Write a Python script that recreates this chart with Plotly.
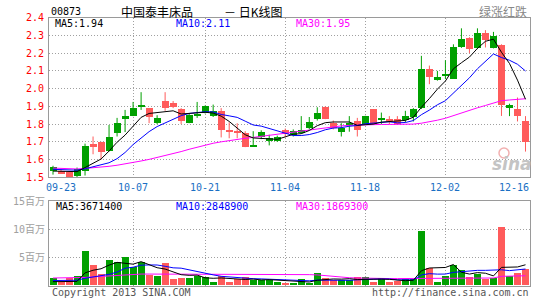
import plotly.graph_objects as go

W, H = 545, 300

date_labels = ["09-23", "10-07", "10-21", "11-04", "11-18", "12-02", "12-16"]
date_pos = [1, 10, 19, 29, 39, 49, 59]
grid_pos = [10, 19, 29, 39, 49]

opens = [1.54, 1.54, 1.53, 1.51, 1.54, 1.69, 1.70, 1.65, 1.75, 1.83,
         1.85, 1.90, 1.89, 1.81, 1.93, 1.92, 1.885, 1.81, 1.85, 1.865,
         1.845, 1.875, 1.77, 1.765, 1.75, 1.675, 1.73, 1.705, 1.705, 1.77,
         1.74, 1.75, 1.78, 1.83, 1.90, 1.81, 1.758, 1.80, 1.82, 1.80,
         1.885, 1.83, 1.832, 1.832, 1.825, 1.84, 1.89, 2.11, 2.05, 2.075,
         2.057, 2.235, 2.29, 2.232, 2.317, 2.232, 2.25, 1.895, 1.888, 1.822]
highs = [1.565, 1.545, 1.53, 1.555, 1.69, 1.73, 1.70, 1.795, 1.835, 1.88,
         1.925, 1.98, 1.89, 1.85, 1.98, 1.93, 1.89, 1.86, 1.925, 1.905,
         1.91, 1.89, 1.81, 1.805, 1.76, 1.76, 1.765, 1.74, 1.735, 1.775,
         1.77, 1.845, 1.84, 1.895, 1.90, 1.82, 1.805, 1.845, 1.835, 1.847,
         1.885, 1.865, 1.845, 1.845, 1.875, 1.89, 2.185, 2.13, 2.10, 2.16,
         2.25, 2.34, 2.29, 2.34, 2.33, 2.32, 2.25, 1.915, 1.95, 1.845]
lows = [1.515, 1.52, 1.50, 1.495, 1.51, 1.63, 1.60, 1.645, 1.73, 1.755,
        1.845, 1.88, 1.805, 1.80, 1.875, 1.89, 1.80, 1.805, 1.835, 1.86,
        1.84, 1.725, 1.72, 1.72, 1.67, 1.675, 1.715, 1.68, 1.70, 1.725,
        1.73, 1.745, 1.77, 1.82, 1.828, 1.77, 1.73, 1.757, 1.73, 1.80,
        1.80, 1.80, 1.798, 1.795, 1.81, 1.815, 1.885, 2.025, 2.045, 2.055,
        2.055, 2.23, 2.20, 2.223, 2.232, 2.227, 1.846, 1.845, 1.815, 1.645]
closes = [1.56, 1.52, 1.50, 1.55, 1.68, 1.67, 1.645, 1.73, 1.81, 1.85,
          1.89, 1.91, 1.84, 1.835, 1.89, 1.90, 1.82, 1.855, 1.855, 1.905,
          1.875, 1.77, 1.76, 1.75, 1.675, 1.685, 1.755, 1.725, 1.73, 1.745,
          1.76, 1.77, 1.815, 1.865, 1.83, 1.78, 1.78, 1.805, 1.77, 1.847,
          1.80, 1.832, 1.82, 1.805, 1.85, 1.888, 2.11, 2.065, 2.07, 2.08,
          2.235, 2.28, 2.225, 2.317, 2.277, 2.296, 1.91, 1.91, 1.845, 1.70]

ma5 = [1.535, 1.533, 1.53, 1.532, 1.555, 1.578, 1.603, 1.648, 1.698, 1.738,
       1.785, 1.838, 1.86, 1.865, 1.873, 1.875, 1.857, 1.86, 1.864, 1.867,
       1.862, 1.845, 1.815, 1.78, 1.74, 1.722, 1.72, 1.716, 1.714, 1.728,
       1.743, 1.746, 1.764, 1.791, 1.808, 1.812, 1.814, 1.812, 1.793, 1.796,
       1.80, 1.811, 1.814, 1.821, 1.821, 1.839, 1.895, 1.944, 1.997, 2.043,
       2.112, 2.146, 2.178, 2.227, 2.267, 2.279, 2.205, 2.142, 2.048, 1.94]
ma10 = [1.545, 1.542, 1.54, 1.54, 1.548, 1.558, 1.568, 1.582, 1.605, 1.64,
        1.6845, 1.7235, 1.7575, 1.786, 1.807, 1.83, 1.8475, 1.86, 1.8645, 1.87,
        1.8685, 1.8545, 1.8465, 1.838, 1.8165, 1.795, 1.7885, 1.7755, 1.763, 1.747,
        1.7355, 1.7355, 1.741, 1.7525, 1.768, 1.7775, 1.78, 1.788, 1.792, 1.802,
        1.806, 1.812, 1.813, 1.807, 1.809, 1.82, 1.853, 1.879, 1.909, 1.932,
        1.9755, 2.02, 2.061, 2.112, 2.155, 2.1955, 2.1755, 2.16, 2.1375, 2.0995]
ma30 = [1.552, 1.550, 1.548, 1.547, 1.550, 1.553, 1.557, 1.562, 1.568, 1.575,
        1.583, 1.592, 1.601, 1.611, 1.622, 1.633, 1.645, 1.658, 1.670, 1.682,
        1.692, 1.70, 1.708, 1.715, 1.72, 1.725, 1.731, 1.738, 1.745, 1.752,
        1.758, 1.764, 1.77, 1.776, 1.782, 1.787, 1.79, 1.793, 1.795, 1.797,
        1.798, 1.798, 1.798, 1.798, 1.798, 1.80, 1.805, 1.812, 1.822, 1.833,
        1.848, 1.864, 1.88, 1.892, 1.905, 1.92, 1.932, 1.936, 1.94, 1.943]

# volume in millions of shares
volumes = [1.35, 0.65, 1.35, 1.76, 6.2, 3.7, 1.95, 4.6, 4.2, 5.1,
           3.2, 4.2, 1.8, 1.6, 3.9, 1.05, 1.35, 1.25, 1.75, 1.5,
           0.65, 1.65, 0.65, 1.05, 1.45, 1.0, 0.9, 0.9, 0.65, 0.5,
           0.5, 1.05, 0.5, 2.2, 1.25, 0.9, 0.9, 0.9, 1.5, 1.5,
           0.65, 1.25, 0.65, 0.75, 1.05, 1.05, 9.7, 3.1, 0.65, 1.6,
           3.7, 2.8, 1.5, 1.95, 1.05, 1.3, 10.4, 1.6, 2.2, 3.0]
vma5 = [0.7, 0.7, 0.7, 0.75, 2.26, 2.73, 2.99, 3.64, 4.13, 3.91,
        3.81, 4.26, 3.70, 3.18, 2.94, 2.51, 1.94, 1.83, 1.86, 1.38,
        1.30, 1.36, 1.24, 1.10, 1.09, 1.16, 1.01, 1.06, 0.98, 0.79,
        0.69, 0.72, 0.64, 0.95, 1.10, 1.18, 1.15, 1.23, 1.09, 1.14,
        1.09, 1.16, 1.11, 0.96, 0.87, 0.95, 2.64, 3.13, 3.11, 3.22,
        3.75, 2.37, 2.05, 2.31, 2.20, 1.72, 3.24, 3.26, 3.31, 3.70]
vma10 = [0.9, 0.9, 0.9, 0.95, 1.3, 1.5, 1.7, 2.0, 2.4, 3.09,
         3.27, 3.63, 3.67, 3.66, 3.43, 3.16, 3.10, 2.77, 2.52, 2.16,
         1.91, 1.65, 1.54, 1.48, 1.24, 1.23, 1.19, 1.15, 1.04, 0.94,
         0.93, 0.87, 0.85, 0.97, 0.95, 0.94, 0.94, 0.94, 1.02, 1.12,
         1.14, 1.16, 1.17, 1.03, 1.01, 1.02, 1.90, 2.12, 2.04, 2.05,
         2.35, 2.51, 2.59, 2.71, 2.71, 2.74, 2.81, 2.66, 2.81, 2.95]
vma30 = [1.35, 1.35, 1.35, 1.35, 1.45, 1.55, 1.65, 1.75, 1.85, 1.95,
         2.0, 2.05, 2.05, 2.05, 2.05, 2.05, 2.05, 2.05, 2.05, 2.05,
         2.0, 1.95, 1.95, 1.95, 1.95, 1.95, 1.95, 1.95, 1.95, 1.95,
         1.95, 1.95, 1.95, 1.9, 1.75, 1.6, 1.5, 1.4, 1.35, 1.3,
         1.28, 1.26, 1.25, 1.25, 1.25, 1.25, 1.3, 1.3, 1.3, 1.3,
         1.3, 1.3, 1.3, 1.3, 1.3, 1.35, 1.65, 1.7, 1.7, 1.75]

price_ticks = [1.5, 1.6, 1.7, 1.8, 1.9, 2.0, 2.1, 2.2, 2.3, 2.4]
vol_ticks = [5, 10, 15]
vol_tick_text = ["5百万", "10百万", "15百万"]

n = len(closes)
for arr in (opens, highs, lows, ma5, ma10, ma30, volumes, vma5, vma10, vma30):
    assert len(arr) == n, len(arr)
xs = list(range(n))

GREEN = "#00a000"
RED = "#ff5b5b"
MONO = "DejaVu Sans Mono"
CJK = "Noto Sans CJK SC"

up = [c >= o for o, c in zip(opens, closes)]
colors = [GREEN if u else RED for u in up]

fig = go.Figure()

# wicks
for flag, col in ((True, GREEN), (False, RED)):
    wx, wy = [], []
    for i in xs:
        if up[i] == flag:
            wx += [i, i, None]
            wy += [lows[i], highs[i], None]
    fig.add_trace(go.Scatter(x=wx, y=wy, mode="lines", line=dict(color=col, width=1),
                             xaxis="x", yaxis="y", hoverinfo="skip"))

# bodies
base = [min(o, c) for o, c in zip(opens, closes)]
height = [max(abs(c - o), 0.005) for o, c in zip(opens, closes)]
fig.add_trace(go.Bar(x=xs, y=height, base=base, width=0.875,
                     marker=dict(color=colors, line=dict(width=0)),
                     xaxis="x", yaxis="y"))

for arr, col in ((ma30, "#ff00ff"), (ma10, "#0000ff"), (ma5, "#000000")):
    fig.add_trace(go.Scatter(x=xs, y=arr, mode="lines", line=dict(color=col, width=1),
                             xaxis="x", yaxis="y"))

# volume
fig.add_trace(go.Bar(x=xs, y=volumes, width=0.875,
                     marker=dict(color=colors, line=dict(width=0)),
                     xaxis="x2", yaxis="y2"))
for arr, col in ((vma30, "#ff00ff"), (vma10, "#0000ff"), (vma5, "#000000")):
    fig.add_trace(go.Scatter(x=xs, y=arr, mode="lines", line=dict(color=col, width=1),
                             xaxis="x2", yaxis="y2"))

X0, X1 = 49, 529.5
PY0, PY1 = 17.7, 177.3
VY0, VY1 = 201.2, 285.6

def fx(px):
    return px / W

def fy(py):
    return 1 - py / H

axis_common = dict(showgrid=True, gridcolor="#a0a0a0", griddash="1px,2px", gridwidth=1,
                   showline=True, mirror=True, linecolor="#9a9a9a", linewidth=1,
                   zeroline=False, ticks="", showticklabels=False, fixedrange=True)

fig.update_layout(
    width=W, height=H, margin=dict(l=0, r=0, t=0, b=0),
    paper_bgcolor="white", plot_bgcolor="white", showlegend=False,
    bargap=0, barmode="overlay",
    xaxis=dict(domain=[fx(X0), fx(X1)], range=[-0.5, n - 0.5], anchor="y",
               tickvals=grid_pos, **axis_common),
    yaxis=dict(domain=[fy(PY1), fy(PY0)], range=[1.5, 2.4], anchor="x",
               tickvals=price_ticks[1:-1], **axis_common),
    xaxis2=dict(domain=[fx(X0), fx(X1)], range=[-0.5, n - 0.5], anchor="y2",
                tickvals=grid_pos, **axis_common),
    yaxis2=dict(domain=[fy(VY1), fy(VY0)], range=[0, 15], anchor="x2",
                tickvals=vol_ticks[:-1], **axis_common),
)

ann = []

def text(x, y, s, color="#000", size=10, family=MONO, xanchor="left", xref="paper", yref="paper", **kw):
    ann.append(dict(x=x, y=y, text=s, showarrow=False, xref=xref, yref=yref,
                    xanchor=xanchor, yanchor="middle",
                    font=dict(color=color, size=size, family=family, **kw)))

# header
text(fx(48.5), fy(11.5), "00873", size=10)
text(fx(119), fy(11.5), "中国泰丰床品", size=12, family=CJK)
text(fx(222), fy(11.5), "－ 日K线图", size=12, family=CJK)
text(fx(529), fy(11.5), "绿涨红跌", color="#888888", size=12, family=CJK, xanchor="right")

# price axis labels
for v in price_ticks:
    text(fx(46), v, f"{v:.1f}", color="#ff0000", size=10, xanchor="right", yref="y")

# volume axis labels
for v, s in zip(vol_ticks, vol_tick_text):
    text(fx(47), v, s, color="#a0a0a0", size=10, family=MONO + ", " + CJK,
         xanchor="right", yref="y2")

# MA legends
text(fx(53), fy(23.5), "MA5:1.94", color="#000000")
text(fx(173.5), fy(23.5), "MA10:2.11", color="#0000ff")
text(fx(294), fy(23.5), "MA30:1.95", color="#ff00ff")
text(fx(54), fy(207), "MA5:3671400", color="#000000")
text(fx(174), fy(207), "MA10:2848900", color="#0000ff")
text(fx(294), fy(207), "MA30:1869300", color="#ff00ff")

# date labels
for p, s in zip(date_pos, date_labels):
    if p == n - 1:
        text(fx(530.5), fy(187), s, color="#1a6fc4", xanchor="right")
    else:
        text(p, fy(187), s, color="#1a6fc4", xanchor="center", xref="x")

# footer
text(fx(49.5), fy(292), "Copyright 2013 SINA.COM", color="#555555")
text(fx(530.5), fy(292), "http://finance.sina.com.cn", color="#555555", xanchor="right")

# sina watermark
text(fx(512), fy(164), "sina", color="#c4c4c4", size=17, family="DejaVu Sans",
     xanchor="center", weight="bold", style="italic")

fig.update_layout(annotations=ann)
fig.add_shape(type="circle", xref="paper", yref="paper",
              x0=fx(499), x1=fx(509), y0=fy(158), y1=fy(148),
              line=dict(color="#f2b0b0", width=1.5), fillcolor="rgba(0,0,0,0)")

fig.write_html("out.html")
